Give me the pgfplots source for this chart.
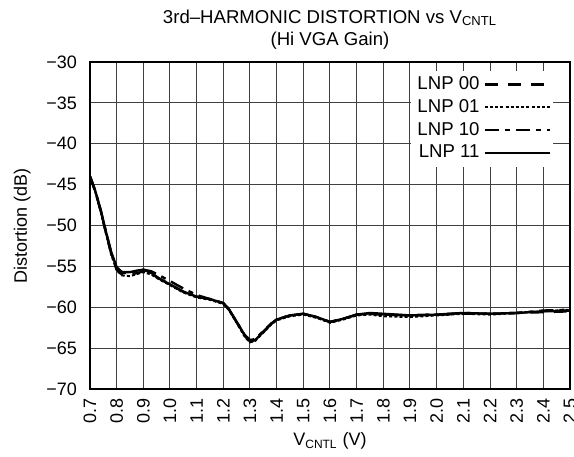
\documentclass[border=0pt]{standalone}
\usepackage{fontspec}
\setmainfont{Liberation Sans}
\usepackage{pgfplots}
\pgfplotsset{compat=1.18}
\begin{document}
\begin{tikzpicture}
\begin{axis}[
  scale only axis, width=240pt, height=163.5pt,
  xmin=0.7, xmax=2.5, ymin=-70, ymax=-30,
  xtick={0.7,0.8,...,2.51},
  xticklabels={0.7,0.8,0.9,1.0,1.1,1.2,1.3,1.4,1.5,1.6,1.7,1.8,1.9,2.0,2.1,2.2,2.3,2.4,2.5},
  ytick={-70,-65,...,-30},
  yticklabels={−70,−65,−60,−55,−50,−45,−40,−35,−30},
  tick label style={font=\fontsize{9}{10}\selectfont},
  xticklabel style={rotate=90, anchor=east, xshift=-1pt},
  yticklabel style={xshift=-3pt},
  tick align=inside, major tick length=0pt,
  grid=major, grid style={black!75, line width=0.5pt},
  axis line style={line width=1.1pt},
  title style={font=\fontsize{9.3}{11}\selectfont, align=center, yshift=-3pt},
  title={3rd–HARMONIC DISTORTION vs V\textsubscript{CNTL}\\(Hi VGA Gain)},
  xlabel={V\textsubscript{CNTL} (V)},
  ylabel={Distortion (dB)},
  label style={font=\fontsize{9}{10}\selectfont},
  xlabel style={yshift=2pt},
  ylabel style={yshift=1pt},
  legend plot pos=right,
  legend style={at={(0.965,0.975)}, anchor=north east, draw=none, fill=white,
    font=\fontsize{9.3}{10}\selectfont, row sep=-0.6pt, inner sep=1pt},
  legend cell align=right,
  legend image post style={xscale=1.9},
  every axis plot/.append style={line width=1.2pt, black},
]
\coordinate (O) at (rel axis cs:0,0);
\addplot[dash pattern=on 6.5pt off 5pt] coordinates {
(0.70,-44.0) (0.72,-45.8) (0.74,-48.2) (0.76,-50.9) (0.78,-53.5) (0.80,-55.4) (0.82,-56.0) (0.85,-56.0) (0.88,-55.8) (0.90,-55.6) (0.93,-55.9) (0.96,-56.5) (1.00,-57.2) (1.05,-58.1) (1.10,-58.7) (1.15,-59.0) (1.20,-59.5) (1.22,-60.2) (1.25,-61.8) (1.28,-63.5) (1.30,-64.2) (1.32,-64.0) (1.35,-63.0) (1.38,-62.0) (1.40,-61.5) (1.45,-61.0) (1.50,-60.8) (1.55,-61.2) (1.60,-61.8) (1.65,-61.4) (1.70,-60.9) (1.75,-60.8) (1.80,-60.9) (1.90,-61.0) (2.00,-60.9) (2.10,-60.8) (2.20,-60.8) (2.30,-60.7) (2.40,-60.6) (2.50,-60.5)};
\addlegendentry{LNP 00}
\addplot[line width=1pt, dash pattern=on 1.5pt off 1.1pt] coordinates {
(0.70,-44.1) (0.72,-45.9) (0.74,-48.3) (0.76,-51.0) (0.78,-53.6) (0.80,-55.5) (0.82,-56.1) (0.85,-56.2) (0.88,-55.9) (0.90,-55.7) (0.93,-56.0) (0.96,-56.6) (1.00,-57.3) (1.05,-58.2) (1.10,-58.8) (1.15,-59.1) (1.20,-59.6) (1.22,-60.3) (1.25,-61.9) (1.28,-63.6) (1.30,-64.3) (1.32,-64.1) (1.35,-63.1) (1.38,-62.1) (1.40,-61.6) (1.45,-61.1) (1.50,-60.9) (1.55,-61.3) (1.60,-61.9) (1.65,-61.5) (1.70,-61.0) (1.75,-60.9) (1.80,-61.1) (1.90,-61.2) (2.00,-61.0) (2.10,-60.8) (2.20,-60.9) (2.30,-60.7) (2.40,-60.5) (2.50,-60.3)};
\addlegendentry{LNP 01}
\addplot[dash pattern=on 7pt off 3pt on 2.5pt off 3pt] coordinates {
(0.70,-44.0) (0.72,-45.8) (0.74,-48.1) (0.76,-50.8) (0.78,-53.4) (0.80,-55.3) (0.82,-55.8) (0.85,-55.8) (0.88,-55.5) (0.90,-55.4) (0.93,-55.6) (0.96,-56.1) (1.00,-56.8) (1.05,-57.7) (1.10,-58.5) (1.15,-59.0) (1.20,-59.5) (1.22,-60.2) (1.25,-61.8) (1.28,-63.4) (1.30,-64.0) (1.32,-63.9) (1.35,-62.9) (1.38,-62.0) (1.40,-61.5) (1.45,-61.0) (1.50,-60.8) (1.55,-61.2) (1.60,-61.8) (1.65,-61.4) (1.70,-60.9) (1.75,-60.8) (1.80,-60.9) (1.90,-61.0) (2.00,-60.9) (2.10,-60.7) (2.20,-60.8) (2.30,-60.7) (2.40,-60.4) (2.50,-60.3)};
\addlegendentry{LNP 10}
\addplot[solid] coordinates {
(0.70,-44.0) (0.72,-45.8) (0.74,-48.1) (0.76,-50.8) (0.78,-53.3) (0.80,-55.1) (0.82,-55.7) (0.85,-55.7) (0.88,-55.5) (0.90,-55.4) (0.93,-55.8) (0.96,-56.5) (1.00,-57.2) (1.05,-58.1) (1.10,-58.7) (1.15,-59.0) (1.20,-59.5) (1.22,-60.2) (1.25,-61.8) (1.28,-63.4) (1.30,-64.1) (1.32,-64.0) (1.35,-63.0) (1.38,-62.0) (1.40,-61.5) (1.45,-61.0) (1.50,-60.8) (1.55,-61.2) (1.60,-61.8) (1.65,-61.4) (1.70,-60.9) (1.75,-60.7) (1.80,-60.8) (1.90,-61.0) (2.00,-60.9) (2.10,-60.7) (2.20,-60.8) (2.30,-60.7) (2.40,-60.5) (2.50,-60.4)};
\addlegendentry{LNP 11}
\end{axis}
\pgfresetboundingbox
\path ([shift={(-45pt,-33.5pt)}]O) rectangle ++(287pt,228pt);
\end{tikzpicture}
\end{document}
